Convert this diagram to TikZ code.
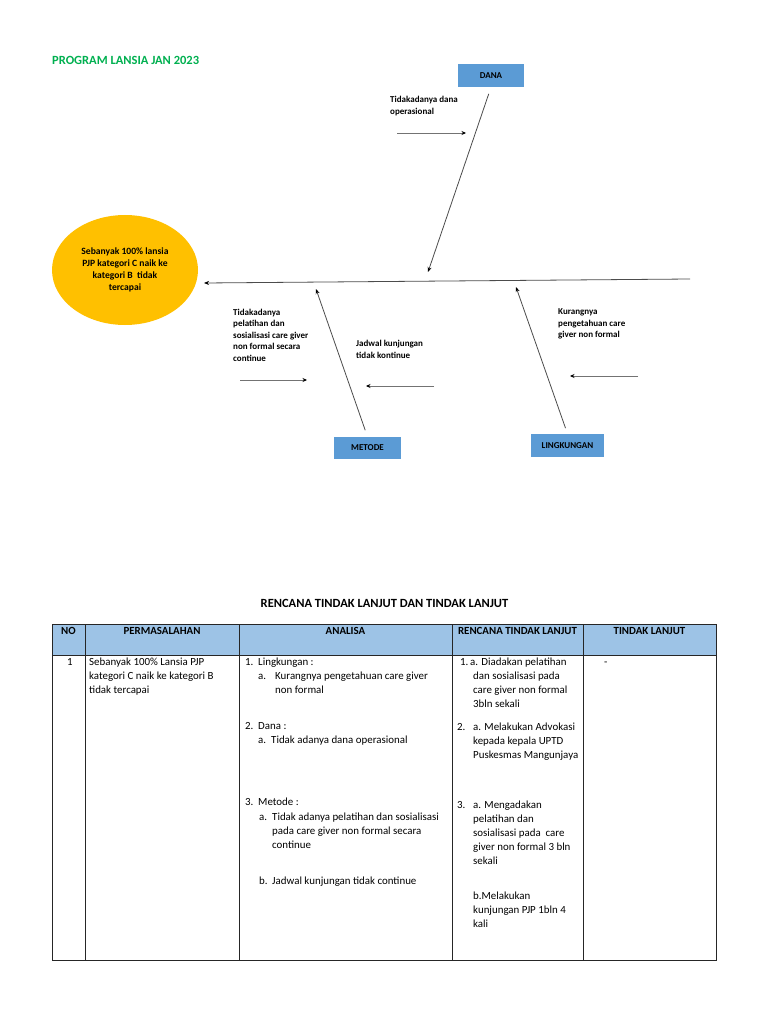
\documentclass[tikz,border=0pt]{standalone}
\usepackage{fontspec}
\setmainfont{Carlito}
\usetikzlibrary{shapes.geometric,arrows.meta}

\definecolor{titlegreen}{RGB}{0,176,80}
\definecolor{boxblue}{RGB}{91,155,213}
\definecolor{headblue}{RGB}{157,195,230}
\definecolor{effectyellow}{RGB}{255,192,0}

\begin{document}
\begin{tikzpicture}[
			x=1pt, y=-1pt,
			every node/.style={inner sep=0pt, align=left, font=\bfseries\fontsize{9}{11.5}\selectfont},
			catbox/.style={fill=boxblue, minimum width=66pt, minimum height=23pt, align=center, font=\bfseries\fontsize{9}{10}\selectfont},
			cause/.style={anchor=north west},
			bone/.style={draw=black!70, line width=0.8pt, -{Stealth[black,length=5pt,width=4pt]}},
			twig/.style={draw=black!55, line width=0.7pt, -{Stealth[black,length=4.5pt,width=4pt]}},
			gridline/.style={draw=black!85, line width=1pt},
			cell/.style={anchor=north west, font=\fontsize{10.9}{13.8}\selectfont},
			headcell/.style={anchor=north, font=\bfseries\fontsize{10.9}{13.8}\selectfont}
			]
			
			\path[use as bounding box, fill=white] (0,0) rectangle (768,1024);
			
			\node[anchor=west, text=titlegreen, font=\bfseries\fontsize{12.5}{14}\selectfont] (title) at (52,60) {PROGRAM LANSIA JAN 2023};
			
			% fishbone: head and spine
			\node[ellipse, fill=effectyellow, minimum width=146pt, minimum height=110pt, align=center, font=\bfseries\fontsize{9.6}{12}\selectfont] (effect) at (125,270) {Sebanyak 100\% lansia\\PJP kategori C naik ke\\kategori B \ tidak\\tercapai};
			\coordinate (spineR) at (690,279);
			\coordinate (spineL) at (204,283);
			\draw[bone] (spineR) -- (spineL);
			
			% categories
			\node[catbox] (dana) at (491,75.5) {DANA};
			\node[catbox, minimum width=67pt, minimum height=22pt] (metode) at (367.5,448) {METODE};
			\node[catbox, minimum width=73pt] (lingkungan) at (567.5,445.5) {LINGKUNGAN};
			
			\coordinate (danaTip) at (428,272);
			\coordinate (metodeTip) at (316,289);
			\coordinate (lingkTip) at (516,287);
			\draw[bone, shorten <=7pt] (dana.south) -- (danaTip);
			\draw[bone, shorten <=7pt] (metode.north) -- (metodeTip);
			\draw[bone, shorten <=6pt] (lingkungan.north) -- (lingkTip);
			
			% causes
			\node[cause] (danaCause) at (390,96) {Tidakadanya dana\\operasional};
			\coordinate (danaFrom) at (397,133);
			\coordinate (danaTo) at (466,133);
			\draw[twig] (danaFrom) -- (danaTo);
			
			\node[cause] (metodeCauseA) at (233,308.5) {Tidakadanya\\pelatihan dan\\sosialisasi care giver\\non formal secara\\continue};
			\coordinate (metodeFromA) at (240,380);
			\coordinate (metodeToA) at (307,380);
			\draw[twig] (metodeFromA) -- (metodeToA);
			
			\node[cause] (metodeCauseB) at (356,340) {Jadwal kunjungan\\tidak kontinue};
			\coordinate (metodeFromB) at (434,386);
			\coordinate (metodeToB) at (366,386);
			\draw[twig] (metodeFromB) -- (metodeToB);
			
			\node[cause] (lingkCause) at (558,308.5) {Kurangnya\\pengetahuan care\\giver non formal};
			\coordinate (lingkFrom) at (638,376);
			\coordinate (lingkTo) at (570,376);
			\draw[twig] (lingkFrom) -- (lingkTo);
			
			% table
			\node[font=\bfseries\fontsize{12.5}{14}\selectfont] (tableTitle) at (384.5,603) {RENCANA TINDAK LANJUT DAN TINDAK LANJUT};
			
			\fill[headblue] (52,624) rectangle (716,655);
			\draw[gridline] (52,624) rectangle (716,960);
			\draw[gridline] (52,655) -- (716,655);
			\foreach \cx in {85,239,452,583}
				\draw[gridline] (\cx,624) -- (\cx,960);
			
			\node[headcell] (hNo) at (68.5,625) {\strut NO};
			\node[headcell] (hMasalah) at (162,625) {\strut PERMASALAHAN};
			\node[headcell] (hAnalisa) at (345.5,625) {\strut ANALISA};
			\node[headcell] (hRencana) at (517.5,625) {\strut RENCANA TINDAK LANJUT};
			\node[headcell] (hTindak) at (649.5,625) {\strut TINDAK LANJUT};
			
			\node[cell, anchor=north] (no1) at (70,656) {\strut 1};
			\node[cell] (masalah1) at (89,656) {\strut Sebanyak 100\% Lansia PJP\\kategori C naik ke kategori B\\tidak tercapai};
			
			% analisa
			\node[cell] (anNum1) at (245,656) {\strut 1.};
			\node[cell] (anHead1) at (258,656) {\strut Lingkungan :};
			\node[cell] (anMark1a) at (258,670) {\strut a.};
			\node[cell] (anText1a) at (275,670) {\strut Kurangnya pengetahuan care giver\\non formal};
			\node[cell] (anNum2) at (245,720) {\strut 2.};
			\node[cell] (anHead2) at (258,720) {\strut Dana :};
			\node[cell] (anMark2a) at (258,734) {\strut a.};
			\node[cell] (anText2a) at (271,734) {\strut Tidak adanya dana operasional};
			\node[cell] (anNum3) at (245,796) {\strut 3.};
			\node[cell] (anHead3) at (258,796) {\strut Metode :};
			\node[cell] (anMark3a) at (259,811) {\strut a.};
			\node[cell] (anText3a) at (272,811) {\strut Tidak adanya pelatihan dan sosialisasi\\pada care giver non formal secara\\continue};
			\node[cell] (anMark3b) at (259,875) {\strut b.};
			\node[cell] (anText3b) at (272,875) {\strut Jadwal kunjungan tidak continue};
			
			% rencana tindak lanjut
			\node[cell] (rtNum1) at (460,656) {\strut 1.};
			\node[cell] (rtText1a) at (470,656) {\strut a. Diadakan pelatihan};
			\node[cell] (rtText1b) at (473,670) {\strut dan sosialisasi pada\\care giver non formal\\3bln sekali};
			\node[cell] (rtNum2) at (457,721) {\strut 2.};
			\node[cell] (rtText2) at (473,721) {\strut a. Melakukan Advokasi\\kepada kepala UPTD\\Puskesmas Mangunjaya};
			\node[cell] (rtNum3) at (457,799) {\strut 3.};
			\node[cell] (rtText3a) at (473,799) {\strut a. Mengadakan\\pelatihan dan\\sosialisasi pada \ care\\giver non formal 3 bln\\sekali};
			\node[cell] (rtText3b) at (473,890) {\strut b.Melakukan\\kunjungan PJP 1bln 4\\kali};
			
			\node[cell] (tl1) at (604,656) {\strut -};
		\end{tikzpicture}
\end{document}
